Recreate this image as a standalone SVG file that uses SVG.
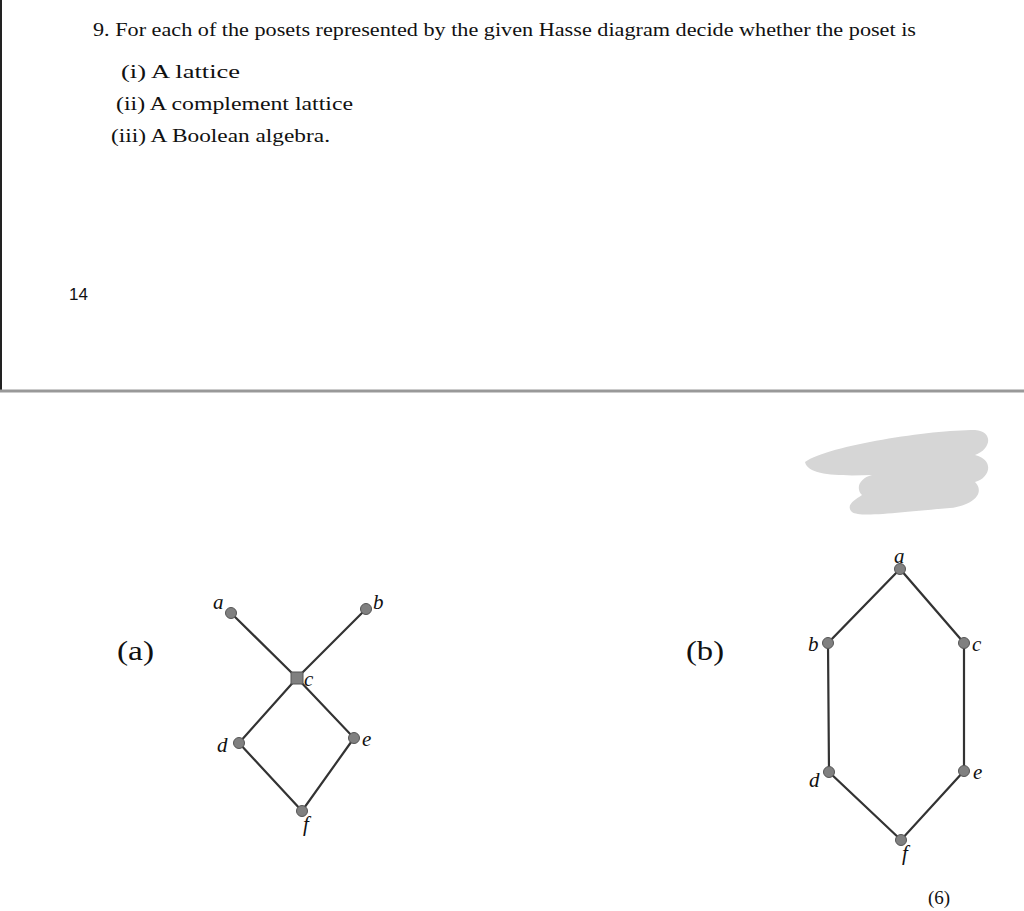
<svg xmlns="http://www.w3.org/2000/svg" width="1024" height="911" viewBox="0 0 1024 911">
<style>
.t{font-family:"Liberation Serif",serif;font-size:19px;fill:#111}
.p{font-family:"Liberation Serif",serif;font-size:28px;fill:#111}
.l{font-family:"Liberation Serif",serif;font-size:21px;font-style:italic;fill:#111}
.e{stroke:#333;stroke-width:2.2;fill:none}
.n{fill:#808080;stroke:#555;stroke-width:1}
</style>
<rect width="1024" height="911" fill="#fff"/>
<line x1="1" y1="0" x2="1" y2="391" stroke="#222" stroke-width="2"/>
<line x1="0" y1="391" x2="1024" y2="391" stroke="#999" stroke-width="3"/>
<text class="t" x="93" y="36" textLength="823" lengthAdjust="spacingAndGlyphs">9.  For each of the posets represented by the given Hasse diagram decide whether the poset is</text>
<text class="t" x="121" y="78" textLength="119" lengthAdjust="spacingAndGlyphs">(i)  A lattice</text>
<text class="t" x="116" y="110" textLength="237" lengthAdjust="spacingAndGlyphs">(ii)  A complement lattice</text>
<text class="t" x="111" y="142" textLength="219" lengthAdjust="spacingAndGlyphs">(iii)  A Boolean algebra.</text>
<text x="69" y="300" font-family="Liberation Sans,sans-serif" font-size="17" fill="#111">14</text>
<path d="M805 462 C830 445 930 430 975 430 C995 432 990 450 975 455 C995 460 990 478 975 482 C985 492 975 505 950 508 C900 512 860 518 852 512 C845 505 855 500 862 495 C855 488 860 478 872 475 C840 476 808 476 805 462 Z" fill="#d6d6d6"/>
<text class="p" x="117" y="660" textLength="37" lengthAdjust="spacingAndGlyphs">(a)</text>
<text class="p" x="686" y="660" textLength="38" lengthAdjust="spacingAndGlyphs">(b)</text>
<g id="edges">
<path class="e" d="M231 613 L297 678 L366 609 M297 678 L239 743 L302 811 L354 738 L297 678"/>
<path class="e" d="M900 569 L828 643 L829 772 L901 840 L964 771 L964 643 Z"/>
</g>
<g id="a-a"><circle class="n" cx="231" cy="613" r="5.5"/><text class="l" x="213" y="609">a</text></g>
<g id="a-b"><circle class="n" cx="366" cy="609" r="5.5"/><text class="l" x="373" y="609">b</text></g>
<g id="a-c"><rect class="n" x="291" y="672" width="12" height="12"/><text class="l" x="304" y="686">c</text></g>
<g id="a-d"><circle class="n" cx="239" cy="743" r="5.5"/><text class="l" x="217" y="752">d</text></g>
<g id="a-e"><circle class="n" cx="354" cy="738" r="5.5"/><text class="l" x="362" y="746">e</text></g>
<g id="a-f"><circle class="n" cx="302" cy="811" r="5.5"/><text class="l" x="303" y="831">f</text></g>
<g id="b-a"><circle class="n" cx="900" cy="569" r="5.5"/><text class="l" x="894" y="563">a</text></g>
<g id="b-b"><circle class="n" cx="828" cy="643" r="5.5"/><text class="l" x="808" y="651">b</text></g>
<g id="b-c"><circle class="n" cx="964" cy="643" r="5.5"/><text class="l" x="972" y="651">c</text></g>
<g id="b-d"><circle class="n" cx="829" cy="772" r="5.5"/><text class="l" x="809" y="787">d</text></g>
<g id="b-e"><circle class="n" cx="964" cy="771" r="5.5"/><text class="l" x="973" y="779">e</text></g>
<g id="b-f"><circle class="n" cx="901" cy="840" r="5.5"/><text class="l" x="902" y="860">f</text></g>
<text class="t" x="928" y="904">(6)</text>
</svg>
